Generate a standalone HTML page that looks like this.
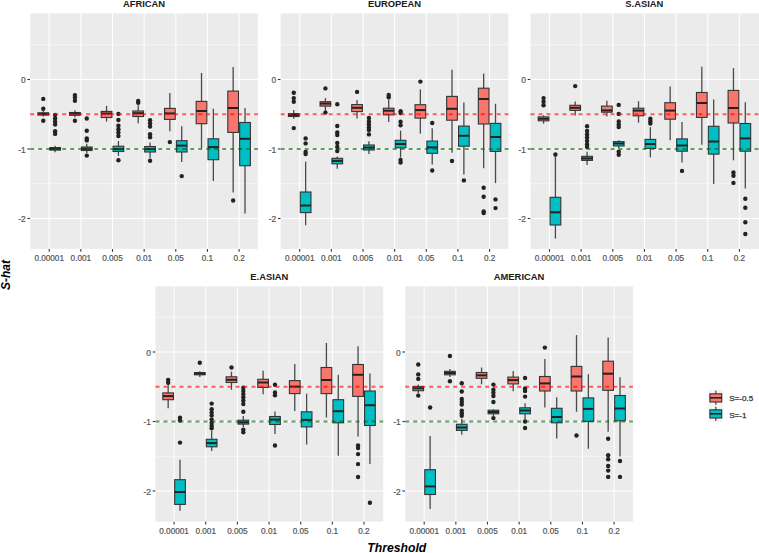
<!DOCTYPE html>
<html><head><meta charset="utf-8"><style>
html,body{margin:0;padding:0;background:#fff;width:759px;height:553px;overflow:hidden}
svg{display:block}
text{font-family:"Liberation Sans",sans-serif}
.yl{font-size:8.4px;fill:#555;stroke:#555;stroke-width:0.2px;text-anchor:end}
.xl{font-size:8.2px;fill:#555;stroke:#555;stroke-width:0.2px;text-anchor:middle}
.st{font-size:9.4px;font-weight:bold;fill:#1A1A1A;text-anchor:middle}
.lg{font-size:8.1px;fill:#333;stroke:#333;stroke-width:0.25px}
.at{font-size:12.2px;font-weight:bold;font-style:italic;fill:#000;text-anchor:middle}
.wh{stroke:#4a4a4a;stroke-width:1.3}
.bx{stroke:#333;stroke-width:1.1}
.md{stroke:#222;stroke-width:2}
.pt{fill:#222}
.dr{stroke:#FF0000;stroke-opacity:0.62;stroke-width:1.9;stroke-dasharray:4 4}
.dg{stroke:#006400;stroke-opacity:0.6;stroke-width:1.8;stroke-dasharray:4 4}
</style></head><body>
<svg width="759" height="553" viewBox="0 0 759 553">
<rect x="30.2" y="13.5" width="227.7" height="235.4" fill="#EBEBEB"/>
<line x1="30.2" x2="257.9" y1="44.75" y2="44.75" stroke="#fff" stroke-width="0.55"/>
<line x1="30.2" x2="257.9" y1="114.25" y2="114.25" stroke="#fff" stroke-width="0.55"/>
<line x1="30.2" x2="257.9" y1="183.75" y2="183.75" stroke="#fff" stroke-width="0.55"/>
<line x1="30.2" x2="257.9" y1="79.5" y2="79.5" stroke="#fff" stroke-width="1.1"/>
<line x1="27.4" x2="30" y1="79.5" y2="79.5" stroke="#333" stroke-width="1.1"/>
<text x="25.6" y="83.1" class="yl">0</text>
<line x1="30.2" x2="257.9" y1="149" y2="149" stroke="#fff" stroke-width="1.1"/>
<line x1="27.4" x2="30" y1="149" y2="149" stroke="#333" stroke-width="1.1"/>
<text x="25.6" y="152.6" class="yl">-1</text>
<line x1="30.2" x2="257.9" y1="218.5" y2="218.5" stroke="#fff" stroke-width="1.1"/>
<line x1="27.4" x2="30" y1="218.5" y2="218.5" stroke="#333" stroke-width="1.1"/>
<text x="25.6" y="222.1" class="yl">-2</text>
<line x1="49.19" x2="49.19" y1="13.5" y2="248.9" stroke="#fff" stroke-width="1.1"/>
<line x1="49.19" x2="49.19" y1="249.1" y2="251.8" stroke="#333" stroke-width="1.1"/>
<text x="49.19" y="260.8" class="xl">0.00001</text>
<line x1="80.84" x2="80.84" y1="13.5" y2="248.9" stroke="#fff" stroke-width="1.1"/>
<line x1="80.84" x2="80.84" y1="249.1" y2="251.8" stroke="#333" stroke-width="1.1"/>
<text x="80.84" y="260.8" class="xl">0.001</text>
<line x1="112.49" x2="112.49" y1="13.5" y2="248.9" stroke="#fff" stroke-width="1.1"/>
<line x1="112.49" x2="112.49" y1="249.1" y2="251.8" stroke="#333" stroke-width="1.1"/>
<text x="112.49" y="260.8" class="xl">0.005</text>
<line x1="144.14" x2="144.14" y1="13.5" y2="248.9" stroke="#fff" stroke-width="1.1"/>
<line x1="144.14" x2="144.14" y1="249.1" y2="251.8" stroke="#333" stroke-width="1.1"/>
<text x="144.14" y="260.8" class="xl">0.01</text>
<line x1="175.79" x2="175.79" y1="13.5" y2="248.9" stroke="#fff" stroke-width="1.1"/>
<line x1="175.79" x2="175.79" y1="249.1" y2="251.8" stroke="#333" stroke-width="1.1"/>
<text x="175.79" y="260.8" class="xl">0.05</text>
<line x1="207.44" x2="207.44" y1="13.5" y2="248.9" stroke="#fff" stroke-width="1.1"/>
<line x1="207.44" x2="207.44" y1="249.1" y2="251.8" stroke="#333" stroke-width="1.1"/>
<text x="207.44" y="260.8" class="xl">0.1</text>
<line x1="239.09" x2="239.09" y1="13.5" y2="248.9" stroke="#fff" stroke-width="1.1"/>
<line x1="239.09" x2="239.09" y1="249.1" y2="251.8" stroke="#333" stroke-width="1.1"/>
<text x="239.09" y="260.8" class="xl">0.2</text>
<text x="144.05" y="6.6" class="st">AFRICAN</text>
<rect x="280.7" y="13.5" width="227.7" height="235.4" fill="#EBEBEB"/>
<line x1="280.7" x2="508.4" y1="44.75" y2="44.75" stroke="#fff" stroke-width="0.55"/>
<line x1="280.7" x2="508.4" y1="114.25" y2="114.25" stroke="#fff" stroke-width="0.55"/>
<line x1="280.7" x2="508.4" y1="183.75" y2="183.75" stroke="#fff" stroke-width="0.55"/>
<line x1="280.7" x2="508.4" y1="79.5" y2="79.5" stroke="#fff" stroke-width="1.1"/>
<line x1="277.9" x2="280.5" y1="79.5" y2="79.5" stroke="#333" stroke-width="1.1"/>
<text x="276.1" y="83.1" class="yl">0</text>
<line x1="280.7" x2="508.4" y1="149" y2="149" stroke="#fff" stroke-width="1.1"/>
<line x1="277.9" x2="280.5" y1="149" y2="149" stroke="#333" stroke-width="1.1"/>
<text x="276.1" y="152.6" class="yl">-1</text>
<line x1="280.7" x2="508.4" y1="218.5" y2="218.5" stroke="#fff" stroke-width="1.1"/>
<line x1="277.9" x2="280.5" y1="218.5" y2="218.5" stroke="#333" stroke-width="1.1"/>
<text x="276.1" y="222.1" class="yl">-2</text>
<line x1="299.69" x2="299.69" y1="13.5" y2="248.9" stroke="#fff" stroke-width="1.1"/>
<line x1="299.69" x2="299.69" y1="249.1" y2="251.8" stroke="#333" stroke-width="1.1"/>
<text x="299.69" y="260.8" class="xl">0.00001</text>
<line x1="331.34" x2="331.34" y1="13.5" y2="248.9" stroke="#fff" stroke-width="1.1"/>
<line x1="331.34" x2="331.34" y1="249.1" y2="251.8" stroke="#333" stroke-width="1.1"/>
<text x="331.34" y="260.8" class="xl">0.001</text>
<line x1="362.99" x2="362.99" y1="13.5" y2="248.9" stroke="#fff" stroke-width="1.1"/>
<line x1="362.99" x2="362.99" y1="249.1" y2="251.8" stroke="#333" stroke-width="1.1"/>
<text x="362.99" y="260.8" class="xl">0.005</text>
<line x1="394.64" x2="394.64" y1="13.5" y2="248.9" stroke="#fff" stroke-width="1.1"/>
<line x1="394.64" x2="394.64" y1="249.1" y2="251.8" stroke="#333" stroke-width="1.1"/>
<text x="394.64" y="260.8" class="xl">0.01</text>
<line x1="426.29" x2="426.29" y1="13.5" y2="248.9" stroke="#fff" stroke-width="1.1"/>
<line x1="426.29" x2="426.29" y1="249.1" y2="251.8" stroke="#333" stroke-width="1.1"/>
<text x="426.29" y="260.8" class="xl">0.05</text>
<line x1="457.94" x2="457.94" y1="13.5" y2="248.9" stroke="#fff" stroke-width="1.1"/>
<line x1="457.94" x2="457.94" y1="249.1" y2="251.8" stroke="#333" stroke-width="1.1"/>
<text x="457.94" y="260.8" class="xl">0.1</text>
<line x1="489.59" x2="489.59" y1="13.5" y2="248.9" stroke="#fff" stroke-width="1.1"/>
<line x1="489.59" x2="489.59" y1="249.1" y2="251.8" stroke="#333" stroke-width="1.1"/>
<text x="489.59" y="260.8" class="xl">0.2</text>
<text x="394.55" y="6.6" class="st">EUROPEAN</text>
<rect x="530.5" y="13.5" width="228.5" height="235.4" fill="#EBEBEB"/>
<line x1="530.5" x2="759" y1="44.75" y2="44.75" stroke="#fff" stroke-width="0.55"/>
<line x1="530.5" x2="759" y1="114.25" y2="114.25" stroke="#fff" stroke-width="0.55"/>
<line x1="530.5" x2="759" y1="183.75" y2="183.75" stroke="#fff" stroke-width="0.55"/>
<line x1="530.5" x2="759" y1="79.5" y2="79.5" stroke="#fff" stroke-width="1.1"/>
<line x1="527.7" x2="530.3" y1="79.5" y2="79.5" stroke="#333" stroke-width="1.1"/>
<text x="525.9" y="83.1" class="yl">0</text>
<line x1="530.5" x2="759" y1="149" y2="149" stroke="#fff" stroke-width="1.1"/>
<line x1="527.7" x2="530.3" y1="149" y2="149" stroke="#333" stroke-width="1.1"/>
<text x="525.9" y="152.6" class="yl">-1</text>
<line x1="530.5" x2="759" y1="218.5" y2="218.5" stroke="#fff" stroke-width="1.1"/>
<line x1="527.7" x2="530.3" y1="218.5" y2="218.5" stroke="#333" stroke-width="1.1"/>
<text x="525.9" y="222.1" class="yl">-2</text>
<line x1="549.49" x2="549.49" y1="13.5" y2="248.9" stroke="#fff" stroke-width="1.1"/>
<line x1="549.49" x2="549.49" y1="249.1" y2="251.8" stroke="#333" stroke-width="1.1"/>
<text x="549.49" y="260.8" class="xl">0.00001</text>
<line x1="581.14" x2="581.14" y1="13.5" y2="248.9" stroke="#fff" stroke-width="1.1"/>
<line x1="581.14" x2="581.14" y1="249.1" y2="251.8" stroke="#333" stroke-width="1.1"/>
<text x="581.14" y="260.8" class="xl">0.001</text>
<line x1="612.79" x2="612.79" y1="13.5" y2="248.9" stroke="#fff" stroke-width="1.1"/>
<line x1="612.79" x2="612.79" y1="249.1" y2="251.8" stroke="#333" stroke-width="1.1"/>
<text x="612.79" y="260.8" class="xl">0.005</text>
<line x1="644.44" x2="644.44" y1="13.5" y2="248.9" stroke="#fff" stroke-width="1.1"/>
<line x1="644.44" x2="644.44" y1="249.1" y2="251.8" stroke="#333" stroke-width="1.1"/>
<text x="644.44" y="260.8" class="xl">0.01</text>
<line x1="676.09" x2="676.09" y1="13.5" y2="248.9" stroke="#fff" stroke-width="1.1"/>
<line x1="676.09" x2="676.09" y1="249.1" y2="251.8" stroke="#333" stroke-width="1.1"/>
<text x="676.09" y="260.8" class="xl">0.05</text>
<line x1="707.74" x2="707.74" y1="13.5" y2="248.9" stroke="#fff" stroke-width="1.1"/>
<line x1="707.74" x2="707.74" y1="249.1" y2="251.8" stroke="#333" stroke-width="1.1"/>
<text x="707.74" y="260.8" class="xl">0.1</text>
<line x1="739.39" x2="739.39" y1="13.5" y2="248.9" stroke="#fff" stroke-width="1.1"/>
<line x1="739.39" x2="739.39" y1="249.1" y2="251.8" stroke="#333" stroke-width="1.1"/>
<text x="739.39" y="260.8" class="xl">0.2</text>
<text x="644.35" y="6.6" class="st">S.ASIAN</text>
<rect x="155.5" y="286.3" width="227.7" height="235.3" fill="#EBEBEB"/>
<line x1="155.5" x2="383.2" y1="317.25" y2="317.25" stroke="#fff" stroke-width="0.55"/>
<line x1="155.5" x2="383.2" y1="386.75" y2="386.75" stroke="#fff" stroke-width="0.55"/>
<line x1="155.5" x2="383.2" y1="456.25" y2="456.25" stroke="#fff" stroke-width="0.55"/>
<line x1="155.5" x2="383.2" y1="352" y2="352" stroke="#fff" stroke-width="1.1"/>
<line x1="152.7" x2="155.3" y1="352" y2="352" stroke="#333" stroke-width="1.1"/>
<text x="150.9" y="355.6" class="yl">0</text>
<line x1="155.5" x2="383.2" y1="421.5" y2="421.5" stroke="#fff" stroke-width="1.1"/>
<line x1="152.7" x2="155.3" y1="421.5" y2="421.5" stroke="#333" stroke-width="1.1"/>
<text x="150.9" y="425.1" class="yl">-1</text>
<line x1="155.5" x2="383.2" y1="491" y2="491" stroke="#fff" stroke-width="1.1"/>
<line x1="152.7" x2="155.3" y1="491" y2="491" stroke="#333" stroke-width="1.1"/>
<text x="150.9" y="494.6" class="yl">-2</text>
<line x1="174.09" x2="174.09" y1="286.3" y2="521.6" stroke="#fff" stroke-width="1.1"/>
<line x1="174.09" x2="174.09" y1="521.8" y2="524.5" stroke="#333" stroke-width="1.1"/>
<text x="174.09" y="533.5" class="xl">0.00001</text>
<line x1="205.74" x2="205.74" y1="286.3" y2="521.6" stroke="#fff" stroke-width="1.1"/>
<line x1="205.74" x2="205.74" y1="521.8" y2="524.5" stroke="#333" stroke-width="1.1"/>
<text x="205.74" y="533.5" class="xl">0.001</text>
<line x1="237.39" x2="237.39" y1="286.3" y2="521.6" stroke="#fff" stroke-width="1.1"/>
<line x1="237.39" x2="237.39" y1="521.8" y2="524.5" stroke="#333" stroke-width="1.1"/>
<text x="237.39" y="533.5" class="xl">0.005</text>
<line x1="269.04" x2="269.04" y1="286.3" y2="521.6" stroke="#fff" stroke-width="1.1"/>
<line x1="269.04" x2="269.04" y1="521.8" y2="524.5" stroke="#333" stroke-width="1.1"/>
<text x="269.04" y="533.5" class="xl">0.01</text>
<line x1="300.69" x2="300.69" y1="286.3" y2="521.6" stroke="#fff" stroke-width="1.1"/>
<line x1="300.69" x2="300.69" y1="521.8" y2="524.5" stroke="#333" stroke-width="1.1"/>
<text x="300.69" y="533.5" class="xl">0.05</text>
<line x1="332.34" x2="332.34" y1="286.3" y2="521.6" stroke="#fff" stroke-width="1.1"/>
<line x1="332.34" x2="332.34" y1="521.8" y2="524.5" stroke="#333" stroke-width="1.1"/>
<text x="332.34" y="533.5" class="xl">0.1</text>
<line x1="363.99" x2="363.99" y1="286.3" y2="521.6" stroke="#fff" stroke-width="1.1"/>
<line x1="363.99" x2="363.99" y1="521.8" y2="524.5" stroke="#333" stroke-width="1.1"/>
<text x="363.99" y="533.5" class="xl">0.2</text>
<text x="269.35" y="279.8" class="st">E.ASIAN</text>
<rect x="405.2" y="286.3" width="227.7" height="235.3" fill="#EBEBEB"/>
<line x1="405.2" x2="632.9" y1="317.25" y2="317.25" stroke="#fff" stroke-width="0.55"/>
<line x1="405.2" x2="632.9" y1="386.75" y2="386.75" stroke="#fff" stroke-width="0.55"/>
<line x1="405.2" x2="632.9" y1="456.25" y2="456.25" stroke="#fff" stroke-width="0.55"/>
<line x1="405.2" x2="632.9" y1="352" y2="352" stroke="#fff" stroke-width="1.1"/>
<line x1="402.4" x2="405" y1="352" y2="352" stroke="#333" stroke-width="1.1"/>
<text x="400.6" y="355.6" class="yl">0</text>
<line x1="405.2" x2="632.9" y1="421.5" y2="421.5" stroke="#fff" stroke-width="1.1"/>
<line x1="402.4" x2="405" y1="421.5" y2="421.5" stroke="#333" stroke-width="1.1"/>
<text x="400.6" y="425.1" class="yl">-1</text>
<line x1="405.2" x2="632.9" y1="491" y2="491" stroke="#fff" stroke-width="1.1"/>
<line x1="402.4" x2="405" y1="491" y2="491" stroke="#333" stroke-width="1.1"/>
<text x="400.6" y="494.6" class="yl">-2</text>
<line x1="424.19" x2="424.19" y1="286.3" y2="521.6" stroke="#fff" stroke-width="1.1"/>
<line x1="424.19" x2="424.19" y1="521.8" y2="524.5" stroke="#333" stroke-width="1.1"/>
<text x="424.19" y="533.5" class="xl">0.00001</text>
<line x1="455.84" x2="455.84" y1="286.3" y2="521.6" stroke="#fff" stroke-width="1.1"/>
<line x1="455.84" x2="455.84" y1="521.8" y2="524.5" stroke="#333" stroke-width="1.1"/>
<text x="455.84" y="533.5" class="xl">0.001</text>
<line x1="487.49" x2="487.49" y1="286.3" y2="521.6" stroke="#fff" stroke-width="1.1"/>
<line x1="487.49" x2="487.49" y1="521.8" y2="524.5" stroke="#333" stroke-width="1.1"/>
<text x="487.49" y="533.5" class="xl">0.005</text>
<line x1="519.14" x2="519.14" y1="286.3" y2="521.6" stroke="#fff" stroke-width="1.1"/>
<line x1="519.14" x2="519.14" y1="521.8" y2="524.5" stroke="#333" stroke-width="1.1"/>
<text x="519.14" y="533.5" class="xl">0.01</text>
<line x1="550.79" x2="550.79" y1="286.3" y2="521.6" stroke="#fff" stroke-width="1.1"/>
<line x1="550.79" x2="550.79" y1="521.8" y2="524.5" stroke="#333" stroke-width="1.1"/>
<text x="550.79" y="533.5" class="xl">0.05</text>
<line x1="582.44" x2="582.44" y1="286.3" y2="521.6" stroke="#fff" stroke-width="1.1"/>
<line x1="582.44" x2="582.44" y1="521.8" y2="524.5" stroke="#333" stroke-width="1.1"/>
<text x="582.44" y="533.5" class="xl">0.1</text>
<line x1="614.09" x2="614.09" y1="286.3" y2="521.6" stroke="#fff" stroke-width="1.1"/>
<line x1="614.09" x2="614.09" y1="521.8" y2="524.5" stroke="#333" stroke-width="1.1"/>
<text x="614.09" y="533.5" class="xl">0.2</text>
<text x="519.05" y="279.8" class="st">AMERICAN</text>
<line x1="43.26" x2="43.26" y1="110.9" y2="112.8" class="wh"/>
<line x1="43.26" x2="43.26" y1="115.1" y2="116.6" class="wh"/>
<rect x="37.91" y="112.8" width="10.7" height="2.3" fill="#F8766D" class="bx"/>
<line x1="37.91" x2="48.61" y1="113.9" y2="113.9" class="md"/>
<circle cx="43.26" cy="98.9" r="2.2" class="pt"/>
<circle cx="43.26" cy="108.7" r="2.2" class="pt"/>
<circle cx="43.26" cy="120.8" r="2.2" class="pt"/>
<line x1="55.12" x2="55.12" y1="145.7" y2="147.6" class="wh"/>
<line x1="55.12" x2="55.12" y1="150.1" y2="152.3" class="wh"/>
<rect x="49.77" y="147.6" width="10.7" height="2.5" fill="#00BFC4" class="bx"/>
<line x1="49.77" x2="60.47" y1="148.8" y2="148.8" class="md"/>
<circle cx="55.12" cy="115" r="2.2" class="pt"/>
<circle cx="55.12" cy="118.5" r="2.2" class="pt"/>
<circle cx="55.12" cy="121.8" r="2.2" class="pt"/>
<circle cx="55.12" cy="124.6" r="2.2" class="pt"/>
<circle cx="55.12" cy="131.3" r="2.2" class="pt"/>
<circle cx="55.12" cy="133.9" r="2.2" class="pt"/>
<line x1="74.91" x2="74.91" y1="110.3" y2="112.5" class="wh"/>
<line x1="74.91" x2="74.91" y1="115.3" y2="117.2" class="wh"/>
<rect x="69.56" y="112.5" width="10.7" height="2.8" fill="#F8766D" class="bx"/>
<line x1="69.56" x2="80.26" y1="113.6" y2="113.6" class="md"/>
<circle cx="74.91" cy="95.1" r="2.2" class="pt"/>
<circle cx="74.91" cy="97.6" r="2.2" class="pt"/>
<circle cx="74.91" cy="100.8" r="2.2" class="pt"/>
<circle cx="74.91" cy="120.8" r="2.2" class="pt"/>
<line x1="86.77" x2="86.77" y1="143.8" y2="147" class="wh"/>
<line x1="86.77" x2="86.77" y1="150.5" y2="153.3" class="wh"/>
<rect x="81.42" y="147" width="10.7" height="3.5" fill="#00BFC4" class="bx"/>
<line x1="81.42" x2="92.12" y1="148.8" y2="148.8" class="md"/>
<circle cx="86.77" cy="118.5" r="2.2" class="pt"/>
<circle cx="86.77" cy="130.8" r="2.2" class="pt"/>
<circle cx="86.77" cy="138.4" r="2.2" class="pt"/>
<circle cx="86.77" cy="140.4" r="2.2" class="pt"/>
<circle cx="86.77" cy="155.6" r="2.2" class="pt"/>
<line x1="106.56" x2="106.56" y1="105.9" y2="111.4" class="wh"/>
<line x1="106.56" x2="106.56" y1="117.5" y2="121.6" class="wh"/>
<rect x="101.21" y="111.4" width="10.7" height="6.1" fill="#F8766D" class="bx"/>
<line x1="101.21" x2="111.91" y1="113.5" y2="113.5" class="md"/>
<line x1="118.42" x2="118.42" y1="141" y2="146.2" class="wh"/>
<line x1="118.42" x2="118.42" y1="151.5" y2="155.9" class="wh"/>
<rect x="113.07" y="146.2" width="10.7" height="5.3" fill="#00BFC4" class="bx"/>
<line x1="113.07" x2="123.77" y1="149.1" y2="149.1" class="md"/>
<circle cx="118.42" cy="113.9" r="2.2" class="pt"/>
<circle cx="118.42" cy="120" r="2.2" class="pt"/>
<circle cx="118.42" cy="125.8" r="2.2" class="pt"/>
<circle cx="118.42" cy="129.2" r="2.2" class="pt"/>
<circle cx="118.42" cy="132.6" r="2.2" class="pt"/>
<circle cx="118.42" cy="136" r="2.2" class="pt"/>
<circle cx="118.42" cy="160.2" r="2.2" class="pt"/>
<line x1="138.21" x2="138.21" y1="105.2" y2="111" class="wh"/>
<line x1="138.21" x2="138.21" y1="116.5" y2="123.3" class="wh"/>
<rect x="132.86" y="111" width="10.7" height="5.5" fill="#F8766D" class="bx"/>
<line x1="132.86" x2="143.56" y1="113.2" y2="113.2" class="md"/>
<circle cx="138.21" cy="100.9" r="2.2" class="pt"/>
<circle cx="138.21" cy="102.7" r="2.2" class="pt"/>
<line x1="150.07" x2="150.07" y1="142.4" y2="146.5" class="wh"/>
<line x1="150.07" x2="150.07" y1="152" y2="158" class="wh"/>
<rect x="144.72" y="146.5" width="10.7" height="5.5" fill="#00BFC4" class="bx"/>
<line x1="144.72" x2="155.42" y1="149.1" y2="149.1" class="md"/>
<circle cx="150.07" cy="120.2" r="2.2" class="pt"/>
<circle cx="150.07" cy="123.4" r="2.2" class="pt"/>
<circle cx="150.07" cy="126.6" r="2.2" class="pt"/>
<circle cx="150.07" cy="134.2" r="2.2" class="pt"/>
<circle cx="150.07" cy="137.2" r="2.2" class="pt"/>
<circle cx="150.07" cy="160.7" r="2.2" class="pt"/>
<line x1="169.86" x2="169.86" y1="92.9" y2="108.4" class="wh"/>
<line x1="169.86" x2="169.86" y1="119.4" y2="131.3" class="wh"/>
<rect x="164.51" y="108.4" width="10.7" height="11" fill="#F8766D" class="bx"/>
<line x1="164.51" x2="175.21" y1="113.4" y2="113.4" class="md"/>
<circle cx="169.86" cy="142.1" r="2.2" class="pt"/>
<line x1="181.72" x2="181.72" y1="126.2" y2="140.7" class="wh"/>
<line x1="181.72" x2="181.72" y1="152" y2="162" class="wh"/>
<rect x="176.37" y="140.7" width="10.7" height="11.3" fill="#00BFC4" class="bx"/>
<line x1="176.37" x2="187.07" y1="145.6" y2="145.6" class="md"/>
<circle cx="181.72" cy="176.1" r="2.2" class="pt"/>
<line x1="201.51" x2="201.51" y1="72.9" y2="101.4" class="wh"/>
<line x1="201.51" x2="201.51" y1="123.7" y2="148.5" class="wh"/>
<rect x="196.16" y="101.4" width="10.7" height="22.3" fill="#F8766D" class="bx"/>
<line x1="196.16" x2="206.86" y1="111" y2="111" class="md"/>
<line x1="213.37" x2="213.37" y1="108.7" y2="138.8" class="wh"/>
<line x1="213.37" x2="213.37" y1="159.7" y2="181" class="wh"/>
<rect x="208.02" y="138.8" width="10.7" height="20.9" fill="#00BFC4" class="bx"/>
<line x1="208.02" x2="218.72" y1="147.1" y2="147.1" class="md"/>
<line x1="233.16" x2="233.16" y1="66.9" y2="91.1" class="wh"/>
<line x1="233.16" x2="233.16" y1="132.4" y2="192.4" class="wh"/>
<rect x="227.81" y="91.1" width="10.7" height="41.3" fill="#F8766D" class="bx"/>
<line x1="227.81" x2="238.51" y1="108" y2="108" class="md"/>
<circle cx="233.16" cy="200.5" r="2.2" class="pt"/>
<line x1="245.02" x2="245.02" y1="108" y2="122.5" class="wh"/>
<line x1="245.02" x2="245.02" y1="165.7" y2="213.5" class="wh"/>
<rect x="239.67" y="122.5" width="10.7" height="43.2" fill="#00BFC4" class="bx"/>
<line x1="239.67" x2="250.37" y1="138.8" y2="138.8" class="md"/>
<line x1="293.76" x2="293.76" y1="110.1" y2="113.6" class="wh"/>
<line x1="293.76" x2="293.76" y1="116.5" y2="118.8" class="wh"/>
<rect x="288.41" y="113.6" width="10.7" height="2.9" fill="#F8766D" class="bx"/>
<line x1="288.41" x2="299.11" y1="115" y2="115" class="md"/>
<circle cx="293.76" cy="92.7" r="2.2" class="pt"/>
<circle cx="293.76" cy="98.1" r="2.2" class="pt"/>
<circle cx="293.76" cy="101.7" r="2.2" class="pt"/>
<circle cx="293.76" cy="128.1" r="2.2" class="pt"/>
<line x1="305.62" x2="305.62" y1="161.6" y2="192" class="wh"/>
<line x1="305.62" x2="305.62" y1="212.6" y2="225.3" class="wh"/>
<rect x="300.27" y="192" width="10.7" height="20.6" fill="#00BFC4" class="bx"/>
<line x1="300.27" x2="310.97" y1="205.5" y2="205.5" class="md"/>
<circle cx="305.62" cy="138.4" r="2.2" class="pt"/>
<circle cx="305.62" cy="143.4" r="2.2" class="pt"/>
<circle cx="305.62" cy="152" r="2.2" class="pt"/>
<circle cx="305.62" cy="154" r="2.2" class="pt"/>
<line x1="325.41" x2="325.41" y1="98.1" y2="101.7" class="wh"/>
<line x1="325.41" x2="325.41" y1="106.1" y2="112.6" class="wh"/>
<rect x="320.06" y="101.7" width="10.7" height="4.4" fill="#F8766D" class="bx"/>
<line x1="320.06" x2="330.76" y1="103.6" y2="103.6" class="md"/>
<circle cx="325.41" cy="88.4" r="2.2" class="pt"/>
<circle cx="325.41" cy="112.6" r="2.2" class="pt"/>
<line x1="337.27" x2="337.27" y1="156.5" y2="158.3" class="wh"/>
<line x1="337.27" x2="337.27" y1="163.8" y2="168.8" class="wh"/>
<rect x="331.92" y="158.3" width="10.7" height="5.5" fill="#00BFC4" class="bx"/>
<line x1="331.92" x2="342.62" y1="160.9" y2="160.9" class="md"/>
<circle cx="337.27" cy="104.3" r="2.2" class="pt"/>
<circle cx="337.27" cy="126" r="2.2" class="pt"/>
<circle cx="337.27" cy="132.5" r="2.2" class="pt"/>
<circle cx="337.27" cy="135" r="2.2" class="pt"/>
<circle cx="337.27" cy="143" r="2.2" class="pt"/>
<circle cx="337.27" cy="147" r="2.2" class="pt"/>
<circle cx="337.27" cy="151" r="2.2" class="pt"/>
<line x1="357.06" x2="357.06" y1="100" y2="104.6" class="wh"/>
<line x1="357.06" x2="357.06" y1="111.6" y2="118.4" class="wh"/>
<rect x="351.71" y="104.6" width="10.7" height="7" fill="#F8766D" class="bx"/>
<line x1="351.71" x2="362.41" y1="107.8" y2="107.8" class="md"/>
<circle cx="357.06" cy="91.9" r="2.2" class="pt"/>
<line x1="368.92" x2="368.92" y1="141.3" y2="145" class="wh"/>
<line x1="368.92" x2="368.92" y1="150" y2="154.1" class="wh"/>
<rect x="363.57" y="145" width="10.7" height="5" fill="#00BFC4" class="bx"/>
<line x1="363.57" x2="374.27" y1="147.6" y2="147.6" class="md"/>
<circle cx="368.92" cy="118" r="2.2" class="pt"/>
<circle cx="368.92" cy="121.5" r="2.2" class="pt"/>
<circle cx="368.92" cy="124.5" r="2.2" class="pt"/>
<circle cx="368.92" cy="127.5" r="2.2" class="pt"/>
<circle cx="368.92" cy="130" r="2.2" class="pt"/>
<circle cx="368.92" cy="134.4" r="2.2" class="pt"/>
<line x1="388.71" x2="388.71" y1="99.5" y2="108.2" class="wh"/>
<line x1="388.71" x2="388.71" y1="114.8" y2="122" class="wh"/>
<rect x="383.36" y="108.2" width="10.7" height="6.6" fill="#F8766D" class="bx"/>
<line x1="383.36" x2="394.06" y1="110.7" y2="110.7" class="md"/>
<circle cx="388.71" cy="95" r="2.2" class="pt"/>
<circle cx="388.71" cy="97.3" r="2.2" class="pt"/>
<line x1="400.57" x2="400.57" y1="130.7" y2="140.3" class="wh"/>
<line x1="400.57" x2="400.57" y1="147.8" y2="157.5" class="wh"/>
<rect x="395.22" y="140.3" width="10.7" height="7.5" fill="#00BFC4" class="bx"/>
<line x1="395.22" x2="405.92" y1="144" y2="144" class="md"/>
<circle cx="400.57" cy="111.2" r="2.2" class="pt"/>
<circle cx="400.57" cy="113" r="2.2" class="pt"/>
<circle cx="400.57" cy="121.8" r="2.2" class="pt"/>
<circle cx="400.57" cy="125.2" r="2.2" class="pt"/>
<circle cx="400.57" cy="160" r="2.2" class="pt"/>
<circle cx="400.57" cy="162.6" r="2.2" class="pt"/>
<line x1="420.36" x2="420.36" y1="89.4" y2="104.7" class="wh"/>
<line x1="420.36" x2="420.36" y1="118.1" y2="133.6" class="wh"/>
<rect x="415.01" y="104.7" width="10.7" height="13.4" fill="#F8766D" class="bx"/>
<line x1="415.01" x2="425.71" y1="110.1" y2="110.1" class="md"/>
<circle cx="420.36" cy="81.6" r="2.2" class="pt"/>
<line x1="432.22" x2="432.22" y1="128.2" y2="141.1" class="wh"/>
<line x1="432.22" x2="432.22" y1="153.3" y2="164.6" class="wh"/>
<rect x="426.87" y="141.1" width="10.7" height="12.2" fill="#00BFC4" class="bx"/>
<line x1="426.87" x2="437.57" y1="147.4" y2="147.4" class="md"/>
<circle cx="432.22" cy="123" r="2.2" class="pt"/>
<circle cx="432.22" cy="170.5" r="2.2" class="pt"/>
<line x1="452.01" x2="452.01" y1="69.8" y2="96.4" class="wh"/>
<line x1="452.01" x2="452.01" y1="120.2" y2="152.8" class="wh"/>
<rect x="446.66" y="96.4" width="10.7" height="23.8" fill="#F8766D" class="bx"/>
<line x1="446.66" x2="457.36" y1="108.8" y2="108.8" class="md"/>
<circle cx="452.01" cy="161" r="2.2" class="pt"/>
<line x1="463.87" x2="463.87" y1="102.6" y2="126.1" class="wh"/>
<line x1="463.87" x2="463.87" y1="146.2" y2="174.5" class="wh"/>
<rect x="458.52" y="126.1" width="10.7" height="20.1" fill="#00BFC4" class="bx"/>
<line x1="458.52" x2="469.22" y1="135.8" y2="135.8" class="md"/>
<circle cx="463.87" cy="180.4" r="2.2" class="pt"/>
<line x1="483.66" x2="483.66" y1="73.6" y2="88.2" class="wh"/>
<line x1="483.66" x2="483.66" y1="124" y2="168.2" class="wh"/>
<rect x="478.31" y="88.2" width="10.7" height="35.8" fill="#F8766D" class="bx"/>
<line x1="478.31" x2="489.01" y1="99" y2="99" class="md"/>
<circle cx="483.66" cy="187.8" r="2.2" class="pt"/>
<circle cx="483.66" cy="196.7" r="2.2" class="pt"/>
<circle cx="483.66" cy="211.5" r="2.2" class="pt"/>
<circle cx="483.66" cy="213" r="2.2" class="pt"/>
<line x1="495.52" x2="495.52" y1="103.8" y2="123.4" class="wh"/>
<line x1="495.52" x2="495.52" y1="151.4" y2="183.1" class="wh"/>
<rect x="490.17" y="123.4" width="10.7" height="28" fill="#00BFC4" class="bx"/>
<line x1="490.17" x2="500.87" y1="137" y2="137" class="md"/>
<circle cx="495.52" cy="199.4" r="2.2" class="pt"/>
<circle cx="495.52" cy="208.1" r="2.2" class="pt"/>
<line x1="543.56" x2="543.56" y1="115.2" y2="116.9" class="wh"/>
<line x1="543.56" x2="543.56" y1="120.8" y2="123.7" class="wh"/>
<rect x="538.21" y="116.9" width="10.7" height="3.9" fill="#F8766D" class="bx"/>
<line x1="538.21" x2="548.91" y1="118.8" y2="118.8" class="md"/>
<circle cx="543.56" cy="98.1" r="2.2" class="pt"/>
<circle cx="543.56" cy="101.7" r="2.2" class="pt"/>
<circle cx="543.56" cy="105.3" r="2.2" class="pt"/>
<line x1="555.42" x2="555.42" y1="155.4" y2="197.3" class="wh"/>
<line x1="555.42" x2="555.42" y1="225" y2="238.6" class="wh"/>
<rect x="550.07" y="197.3" width="10.7" height="27.7" fill="#00BFC4" class="bx"/>
<line x1="550.07" x2="560.77" y1="212.3" y2="212.3" class="md"/>
<circle cx="555.42" cy="154.5" r="2.2" class="pt"/>
<line x1="575.21" x2="575.21" y1="101.4" y2="105.3" class="wh"/>
<line x1="575.21" x2="575.21" y1="110.4" y2="115.5" class="wh"/>
<rect x="569.86" y="105.3" width="10.7" height="5.1" fill="#F8766D" class="bx"/>
<line x1="569.86" x2="580.56" y1="107.8" y2="107.8" class="md"/>
<circle cx="575.21" cy="86.1" r="2.2" class="pt"/>
<line x1="587.07" x2="587.07" y1="151.8" y2="156.3" class="wh"/>
<line x1="587.07" x2="587.07" y1="160.4" y2="165" class="wh"/>
<rect x="581.72" y="156.3" width="10.7" height="4.1" fill="#00BFC4" class="bx"/>
<line x1="581.72" x2="592.42" y1="158.4" y2="158.4" class="md"/>
<circle cx="587.07" cy="126.2" r="2.2" class="pt"/>
<circle cx="587.07" cy="131" r="2.2" class="pt"/>
<circle cx="587.07" cy="134.5" r="2.2" class="pt"/>
<circle cx="587.07" cy="137.5" r="2.2" class="pt"/>
<circle cx="587.07" cy="141" r="2.2" class="pt"/>
<circle cx="587.07" cy="144.5" r="2.2" class="pt"/>
<circle cx="587.07" cy="147" r="2.2" class="pt"/>
<line x1="606.86" x2="606.86" y1="100.7" y2="106.1" class="wh"/>
<line x1="606.86" x2="606.86" y1="112.2" y2="116.6" class="wh"/>
<rect x="601.51" y="106.1" width="10.7" height="6.1" fill="#F8766D" class="bx"/>
<line x1="601.51" x2="612.21" y1="110.4" y2="110.4" class="md"/>
<line x1="618.72" x2="618.72" y1="140.3" y2="141.6" class="wh"/>
<line x1="618.72" x2="618.72" y1="146" y2="148.4" class="wh"/>
<rect x="613.37" y="141.6" width="10.7" height="4.4" fill="#00BFC4" class="bx"/>
<line x1="613.37" x2="624.07" y1="143.5" y2="143.5" class="md"/>
<circle cx="618.72" cy="104.9" r="2.2" class="pt"/>
<circle cx="618.72" cy="113.9" r="2.2" class="pt"/>
<circle cx="618.72" cy="121.5" r="2.2" class="pt"/>
<circle cx="618.72" cy="124.5" r="2.2" class="pt"/>
<circle cx="618.72" cy="127" r="2.2" class="pt"/>
<circle cx="618.72" cy="151.8" r="2.2" class="pt"/>
<circle cx="618.72" cy="154.8" r="2.2" class="pt"/>
<line x1="638.51" x2="638.51" y1="101.2" y2="108.2" class="wh"/>
<line x1="638.51" x2="638.51" y1="115.8" y2="122.7" class="wh"/>
<rect x="633.16" y="108.2" width="10.7" height="7.6" fill="#F8766D" class="bx"/>
<line x1="633.16" x2="643.86" y1="110.6" y2="110.6" class="md"/>
<line x1="650.37" x2="650.37" y1="127.2" y2="139.4" class="wh"/>
<line x1="650.37" x2="650.37" y1="148.4" y2="157.4" class="wh"/>
<rect x="645.02" y="139.4" width="10.7" height="9" fill="#00BFC4" class="bx"/>
<line x1="645.02" x2="655.72" y1="144" y2="144" class="md"/>
<circle cx="650.37" cy="118.8" r="2.2" class="pt"/>
<circle cx="650.37" cy="121.2" r="2.2" class="pt"/>
<circle cx="650.37" cy="123.6" r="2.2" class="pt"/>
<line x1="670.16" x2="670.16" y1="86.5" y2="102.7" class="wh"/>
<line x1="670.16" x2="670.16" y1="119.2" y2="140.2" class="wh"/>
<rect x="664.81" y="102.7" width="10.7" height="16.5" fill="#F8766D" class="bx"/>
<line x1="664.81" x2="675.51" y1="110.6" y2="110.6" class="md"/>
<line x1="682.02" x2="682.02" y1="121.9" y2="138.9" class="wh"/>
<line x1="682.02" x2="682.02" y1="151.2" y2="162.5" class="wh"/>
<rect x="676.67" y="138.9" width="10.7" height="12.3" fill="#00BFC4" class="bx"/>
<line x1="676.67" x2="687.37" y1="145.5" y2="145.5" class="md"/>
<circle cx="682.02" cy="170.9" r="2.2" class="pt"/>
<line x1="701.81" x2="701.81" y1="66.8" y2="92.5" class="wh"/>
<line x1="701.81" x2="701.81" y1="117.4" y2="144.7" class="wh"/>
<rect x="696.46" y="92.5" width="10.7" height="24.9" fill="#F8766D" class="bx"/>
<line x1="696.46" x2="707.16" y1="103" y2="103" class="md"/>
<line x1="713.67" x2="713.67" y1="99.6" y2="126.3" class="wh"/>
<line x1="713.67" x2="713.67" y1="154.1" y2="184" class="wh"/>
<rect x="708.32" y="126.3" width="10.7" height="27.8" fill="#00BFC4" class="bx"/>
<line x1="708.32" x2="719.02" y1="141.5" y2="141.5" class="md"/>
<line x1="733.46" x2="733.46" y1="68.1" y2="90.4" class="wh"/>
<line x1="733.46" x2="733.46" y1="123" y2="160.3" class="wh"/>
<rect x="728.11" y="90.4" width="10.7" height="32.6" fill="#F8766D" class="bx"/>
<line x1="728.11" x2="738.81" y1="108" y2="108" class="md"/>
<circle cx="733.46" cy="172.5" r="2.2" class="pt"/>
<circle cx="733.46" cy="175.8" r="2.2" class="pt"/>
<circle cx="733.46" cy="182.9" r="2.2" class="pt"/>
<line x1="745.32" x2="745.32" y1="102.3" y2="123.5" class="wh"/>
<line x1="745.32" x2="745.32" y1="151.2" y2="188.5" class="wh"/>
<rect x="739.97" y="123.5" width="10.7" height="27.7" fill="#00BFC4" class="bx"/>
<line x1="739.97" x2="750.67" y1="138.4" y2="138.4" class="md"/>
<circle cx="745.32" cy="198.8" r="2.2" class="pt"/>
<circle cx="745.32" cy="207.8" r="2.2" class="pt"/>
<circle cx="745.32" cy="222.3" r="2.2" class="pt"/>
<circle cx="745.32" cy="234" r="2.2" class="pt"/>
<line x1="168.16" x2="168.16" y1="384.4" y2="392.9" class="wh"/>
<line x1="168.16" x2="168.16" y1="399.7" y2="408.2" class="wh"/>
<rect x="162.81" y="392.9" width="10.7" height="6.8" fill="#F8766D" class="bx"/>
<line x1="162.81" x2="173.51" y1="396.1" y2="396.1" class="md"/>
<circle cx="168.16" cy="380" r="2.2" class="pt"/>
<circle cx="168.16" cy="382.8" r="2.2" class="pt"/>
<line x1="180.02" x2="180.02" y1="459.8" y2="479.7" class="wh"/>
<line x1="180.02" x2="180.02" y1="504.4" y2="510.8" class="wh"/>
<rect x="174.67" y="479.7" width="10.7" height="24.7" fill="#00BFC4" class="bx"/>
<line x1="174.67" x2="185.37" y1="492" y2="492" class="md"/>
<circle cx="180.02" cy="417.8" r="2.2" class="pt"/>
<circle cx="180.02" cy="420.5" r="2.2" class="pt"/>
<circle cx="180.02" cy="442.6" r="2.2" class="pt"/>
<line x1="199.81" x2="199.81" y1="371.3" y2="372.6" class="wh"/>
<line x1="199.81" x2="199.81" y1="374.8" y2="377.1" class="wh"/>
<rect x="194.46" y="372.6" width="10.7" height="2.2" fill="#F8766D" class="bx"/>
<line x1="194.46" x2="205.16" y1="373.6" y2="373.6" class="md"/>
<circle cx="199.81" cy="362.7" r="2.2" class="pt"/>
<line x1="211.67" x2="211.67" y1="430.8" y2="439.3" class="wh"/>
<line x1="211.67" x2="211.67" y1="446.8" y2="451.1" class="wh"/>
<rect x="206.32" y="439.3" width="10.7" height="7.5" fill="#00BFC4" class="bx"/>
<line x1="206.32" x2="217.02" y1="443.1" y2="443.1" class="md"/>
<circle cx="211.67" cy="403.6" r="2.2" class="pt"/>
<circle cx="211.67" cy="409.2" r="2.2" class="pt"/>
<circle cx="211.67" cy="412.4" r="2.2" class="pt"/>
<circle cx="211.67" cy="415.6" r="2.2" class="pt"/>
<circle cx="211.67" cy="419.6" r="2.2" class="pt"/>
<circle cx="211.67" cy="422.8" r="2.2" class="pt"/>
<circle cx="211.67" cy="425.8" r="2.2" class="pt"/>
<circle cx="211.67" cy="428.2" r="2.2" class="pt"/>
<line x1="231.46" x2="231.46" y1="371.7" y2="376.8" class="wh"/>
<line x1="231.46" x2="231.46" y1="382.5" y2="389.8" class="wh"/>
<rect x="226.11" y="376.8" width="10.7" height="5.7" fill="#F8766D" class="bx"/>
<line x1="226.11" x2="236.81" y1="379.8" y2="379.8" class="md"/>
<circle cx="231.46" cy="367.5" r="2.2" class="pt"/>
<line x1="243.32" x2="243.32" y1="416" y2="420.2" class="wh"/>
<line x1="243.32" x2="243.32" y1="424.1" y2="426.9" class="wh"/>
<rect x="237.97" y="420.2" width="10.7" height="3.9" fill="#00BFC4" class="bx"/>
<line x1="237.97" x2="248.67" y1="422.3" y2="422.3" class="md"/>
<circle cx="243.32" cy="387.7" r="2.2" class="pt"/>
<circle cx="243.32" cy="390.9" r="2.2" class="pt"/>
<circle cx="243.32" cy="394.1" r="2.2" class="pt"/>
<circle cx="243.32" cy="397.3" r="2.2" class="pt"/>
<circle cx="243.32" cy="400.5" r="2.2" class="pt"/>
<circle cx="243.32" cy="404" r="2.2" class="pt"/>
<circle cx="243.32" cy="411.8" r="2.2" class="pt"/>
<circle cx="243.32" cy="429.6" r="2.2" class="pt"/>
<circle cx="243.32" cy="432.3" r="2.2" class="pt"/>
<line x1="263.11" x2="263.11" y1="370.8" y2="379.3" class="wh"/>
<line x1="263.11" x2="263.11" y1="387.4" y2="394.3" class="wh"/>
<rect x="257.76" y="379.3" width="10.7" height="8.1" fill="#F8766D" class="bx"/>
<line x1="257.76" x2="268.46" y1="382.5" y2="382.5" class="md"/>
<line x1="274.97" x2="274.97" y1="411.5" y2="416.5" class="wh"/>
<line x1="274.97" x2="274.97" y1="424.5" y2="434.1" class="wh"/>
<rect x="269.62" y="416.5" width="10.7" height="8" fill="#00BFC4" class="bx"/>
<line x1="269.62" x2="280.32" y1="419.6" y2="419.6" class="md"/>
<circle cx="274.97" cy="384.7" r="2.2" class="pt"/>
<circle cx="274.97" cy="392.5" r="2.2" class="pt"/>
<circle cx="274.97" cy="395.2" r="2.2" class="pt"/>
<circle cx="274.97" cy="445.5" r="2.2" class="pt"/>
<line x1="294.76" x2="294.76" y1="364.1" y2="380.6" class="wh"/>
<line x1="294.76" x2="294.76" y1="393.6" y2="410.9" class="wh"/>
<rect x="289.41" y="380.6" width="10.7" height="13" fill="#F8766D" class="bx"/>
<line x1="289.41" x2="300.11" y1="386.6" y2="386.6" class="md"/>
<line x1="306.62" x2="306.62" y1="393.6" y2="411.8" class="wh"/>
<line x1="306.62" x2="306.62" y1="426.9" y2="444.5" class="wh"/>
<rect x="301.27" y="411.8" width="10.7" height="15.1" fill="#00BFC4" class="bx"/>
<line x1="301.27" x2="311.97" y1="419.9" y2="419.9" class="md"/>
<line x1="326.41" x2="326.41" y1="342.9" y2="367.5" class="wh"/>
<line x1="326.41" x2="326.41" y1="393.6" y2="417.6" class="wh"/>
<rect x="321.06" y="367.5" width="10.7" height="26.1" fill="#F8766D" class="bx"/>
<line x1="321.06" x2="331.76" y1="380" y2="380" class="md"/>
<line x1="338.27" x2="338.27" y1="374.8" y2="399.7" class="wh"/>
<line x1="338.27" x2="338.27" y1="422.8" y2="455.8" class="wh"/>
<rect x="332.92" y="399.7" width="10.7" height="23.1" fill="#00BFC4" class="bx"/>
<line x1="332.92" x2="343.62" y1="411.2" y2="411.2" class="md"/>
<line x1="358.06" x2="358.06" y1="346.3" y2="364.5" class="wh"/>
<line x1="358.06" x2="358.06" y1="396.4" y2="436.4" class="wh"/>
<rect x="352.71" y="364.5" width="10.7" height="31.9" fill="#F8766D" class="bx"/>
<line x1="352.71" x2="363.41" y1="374.8" y2="374.8" class="md"/>
<circle cx="358.06" cy="445.4" r="2.2" class="pt"/>
<circle cx="358.06" cy="448.1" r="2.2" class="pt"/>
<circle cx="358.06" cy="454.1" r="2.2" class="pt"/>
<circle cx="358.06" cy="464.1" r="2.2" class="pt"/>
<circle cx="358.06" cy="477" r="2.2" class="pt"/>
<line x1="369.92" x2="369.92" y1="373.6" y2="391" class="wh"/>
<line x1="369.92" x2="369.92" y1="425.5" y2="464.1" class="wh"/>
<rect x="364.57" y="391" width="10.7" height="34.5" fill="#00BFC4" class="bx"/>
<line x1="364.57" x2="375.27" y1="405.2" y2="405.2" class="md"/>
<circle cx="369.92" cy="502.8" r="2.2" class="pt"/>
<line x1="418.26" x2="418.26" y1="384.4" y2="386.5" class="wh"/>
<line x1="418.26" x2="418.26" y1="390.7" y2="393.4" class="wh"/>
<rect x="412.91" y="386.5" width="10.7" height="4.2" fill="#F8766D" class="bx"/>
<line x1="412.91" x2="423.61" y1="388.3" y2="388.3" class="md"/>
<circle cx="418.26" cy="364.5" r="2.2" class="pt"/>
<circle cx="418.26" cy="374.4" r="2.2" class="pt"/>
<circle cx="418.26" cy="378.9" r="2.2" class="pt"/>
<circle cx="418.26" cy="395.6" r="2.2" class="pt"/>
<line x1="430.12" x2="430.12" y1="435.9" y2="469.7" class="wh"/>
<line x1="430.12" x2="430.12" y1="494.5" y2="509" class="wh"/>
<rect x="424.77" y="469.7" width="10.7" height="24.8" fill="#00BFC4" class="bx"/>
<line x1="424.77" x2="435.47" y1="486.4" y2="486.4" class="md"/>
<circle cx="430.12" cy="407.5" r="2.2" class="pt"/>
<line x1="449.91" x2="449.91" y1="369" y2="371.3" class="wh"/>
<line x1="449.91" x2="449.91" y1="374.8" y2="377.1" class="wh"/>
<rect x="444.56" y="371.3" width="10.7" height="3.5" fill="#F8766D" class="bx"/>
<line x1="444.56" x2="455.26" y1="373" y2="373" class="md"/>
<circle cx="449.91" cy="356" r="2.2" class="pt"/>
<circle cx="449.91" cy="381.3" r="2.2" class="pt"/>
<line x1="461.77" x2="461.77" y1="418.7" y2="424.3" class="wh"/>
<line x1="461.77" x2="461.77" y1="430.4" y2="434.8" class="wh"/>
<rect x="456.42" y="424.3" width="10.7" height="6.1" fill="#00BFC4" class="bx"/>
<line x1="456.42" x2="467.12" y1="427.5" y2="427.5" class="md"/>
<circle cx="461.77" cy="383.2" r="2.2" class="pt"/>
<circle cx="461.77" cy="391.5" r="2.2" class="pt"/>
<circle cx="461.77" cy="399" r="2.2" class="pt"/>
<circle cx="461.77" cy="401.8" r="2.2" class="pt"/>
<circle cx="461.77" cy="404.5" r="2.2" class="pt"/>
<circle cx="461.77" cy="410.8" r="2.2" class="pt"/>
<circle cx="461.77" cy="413.3" r="2.2" class="pt"/>
<circle cx="461.77" cy="415.8" r="2.2" class="pt"/>
<line x1="481.56" x2="481.56" y1="367.5" y2="372.5" class="wh"/>
<line x1="481.56" x2="481.56" y1="378.3" y2="384.3" class="wh"/>
<rect x="476.21" y="372.5" width="10.7" height="5.8" fill="#F8766D" class="bx"/>
<line x1="476.21" x2="486.91" y1="375.3" y2="375.3" class="md"/>
<line x1="493.42" x2="493.42" y1="409.3" y2="410.2" class="wh"/>
<line x1="493.42" x2="493.42" y1="413.8" y2="416" class="wh"/>
<rect x="488.07" y="410.2" width="10.7" height="3.6" fill="#00BFC4" class="bx"/>
<line x1="488.07" x2="498.77" y1="412" y2="412" class="md"/>
<circle cx="493.42" cy="384.6" r="2.2" class="pt"/>
<circle cx="493.42" cy="389.8" r="2.2" class="pt"/>
<circle cx="493.42" cy="392.8" r="2.2" class="pt"/>
<circle cx="493.42" cy="396" r="2.2" class="pt"/>
<circle cx="493.42" cy="402" r="2.2" class="pt"/>
<circle cx="493.42" cy="418.1" r="2.2" class="pt"/>
<line x1="513.21" x2="513.21" y1="371.1" y2="377.1" class="wh"/>
<line x1="513.21" x2="513.21" y1="383.9" y2="391.2" class="wh"/>
<rect x="507.86" y="377.1" width="10.7" height="6.8" fill="#F8766D" class="bx"/>
<line x1="507.86" x2="518.56" y1="380.1" y2="380.1" class="md"/>
<line x1="525.07" x2="525.07" y1="403.3" y2="407.8" class="wh"/>
<line x1="525.07" x2="525.07" y1="413.8" y2="419.6" class="wh"/>
<rect x="519.72" y="407.8" width="10.7" height="6" fill="#00BFC4" class="bx"/>
<line x1="519.72" x2="530.42" y1="410.5" y2="410.5" class="md"/>
<circle cx="525.07" cy="378" r="2.2" class="pt"/>
<circle cx="525.07" cy="388.5" r="2.2" class="pt"/>
<circle cx="525.07" cy="391" r="2.2" class="pt"/>
<circle cx="525.07" cy="396.6" r="2.2" class="pt"/>
<circle cx="525.07" cy="421.5" r="2.2" class="pt"/>
<circle cx="525.07" cy="428" r="2.2" class="pt"/>
<line x1="544.86" x2="544.86" y1="359.1" y2="376.5" class="wh"/>
<line x1="544.86" x2="544.86" y1="391" y2="407.5" class="wh"/>
<rect x="539.51" y="376.5" width="10.7" height="14.5" fill="#F8766D" class="bx"/>
<line x1="539.51" x2="550.21" y1="383.4" y2="383.4" class="md"/>
<circle cx="544.86" cy="347.6" r="2.2" class="pt"/>
<line x1="556.72" x2="556.72" y1="397.3" y2="408.3" class="wh"/>
<line x1="556.72" x2="556.72" y1="422.8" y2="438.4" class="wh"/>
<rect x="551.37" y="408.3" width="10.7" height="14.5" fill="#00BFC4" class="bx"/>
<line x1="551.37" x2="562.07" y1="417" y2="417" class="md"/>
<line x1="576.51" x2="576.51" y1="335.1" y2="366.4" class="wh"/>
<line x1="576.51" x2="576.51" y1="391" y2="411.8" class="wh"/>
<rect x="571.16" y="366.4" width="10.7" height="24.6" fill="#F8766D" class="bx"/>
<line x1="571.16" x2="581.86" y1="376.5" y2="376.5" class="md"/>
<circle cx="576.51" cy="435.5" r="2.2" class="pt"/>
<line x1="588.37" x2="588.37" y1="374.2" y2="397.9" class="wh"/>
<line x1="588.37" x2="588.37" y1="421.4" y2="448.8" class="wh"/>
<rect x="583.02" y="397.9" width="10.7" height="23.5" fill="#00BFC4" class="bx"/>
<line x1="583.02" x2="593.72" y1="408.9" y2="408.9" class="md"/>
<line x1="608.16" x2="608.16" y1="337.6" y2="361.2" class="wh"/>
<line x1="608.16" x2="608.16" y1="390.3" y2="431.8" class="wh"/>
<rect x="602.81" y="361.2" width="10.7" height="29.1" fill="#F8766D" class="bx"/>
<line x1="602.81" x2="613.51" y1="373.7" y2="373.7" class="md"/>
<circle cx="608.16" cy="438.7" r="2.2" class="pt"/>
<circle cx="608.16" cy="455.2" r="2.2" class="pt"/>
<circle cx="608.16" cy="459.2" r="2.2" class="pt"/>
<circle cx="608.16" cy="466" r="2.2" class="pt"/>
<circle cx="608.16" cy="470.6" r="2.2" class="pt"/>
<circle cx="608.16" cy="476.9" r="2.2" class="pt"/>
<line x1="620.02" x2="620.02" y1="377.3" y2="395.5" class="wh"/>
<line x1="620.02" x2="620.02" y1="420.8" y2="456.6" class="wh"/>
<rect x="614.67" y="395.5" width="10.7" height="25.3" fill="#00BFC4" class="bx"/>
<line x1="614.67" x2="625.37" y1="408.5" y2="408.5" class="md"/>
<circle cx="620.02" cy="461" r="2.2" class="pt"/>
<circle cx="620.02" cy="476.9" r="2.2" class="pt"/>
<line x1="30.2" x2="257.9" y1="114.25" y2="114.25" class="dr"/>
<line x1="30.2" x2="257.9" y1="149" y2="149" class="dg"/>
<line x1="280.7" x2="508.4" y1="114.25" y2="114.25" class="dr"/>
<line x1="280.7" x2="508.4" y1="149" y2="149" class="dg"/>
<line x1="530.5" x2="759" y1="114.25" y2="114.25" class="dr"/>
<line x1="530.5" x2="759" y1="149" y2="149" class="dg"/>
<line x1="155.5" x2="383.2" y1="386.75" y2="386.75" class="dr"/>
<line x1="155.5" x2="383.2" y1="421.5" y2="421.5" class="dg"/>
<line x1="405.2" x2="632.9" y1="386.75" y2="386.75" class="dr"/>
<line x1="405.2" x2="632.9" y1="421.5" y2="421.5" class="dg"/>
<rect x="708.6" y="389.5" width="14.4" height="16.5" fill="#F4F4F4"/>
<line x1="715.8" x2="715.8" y1="390.8" y2="404.8" class="wh"/>
<rect x="709.9" y="393.8" width="11.8" height="8.2" fill="#F8766D" class="bx"/>
<line x1="709.9" x2="721.7" y1="397.8" y2="397.8" class="md" style="stroke-width:1.6"/>
<rect x="708.6" y="405.5" width="14.4" height="16.5" fill="#F4F4F4"/>
<line x1="715.8" x2="715.8" y1="406.8" y2="420.8" class="wh"/>
<rect x="709.9" y="409.8" width="11.8" height="8.2" fill="#00BFC4" class="bx"/>
<line x1="709.9" x2="721.7" y1="413.8" y2="413.8" class="md" style="stroke-width:1.6"/>
<text x="729.2" y="401.4" class="lg">S=-0.5</text>
<text x="729.2" y="417.9" class="lg">S=-1</text>
<text x="396.8" y="551.6" class="at">Threshold</text>
<text transform="translate(9.8,275) rotate(-90)" x="0" y="0" class="at" style="font-size:12px">S-hat</text>
</svg>
</body></html>
